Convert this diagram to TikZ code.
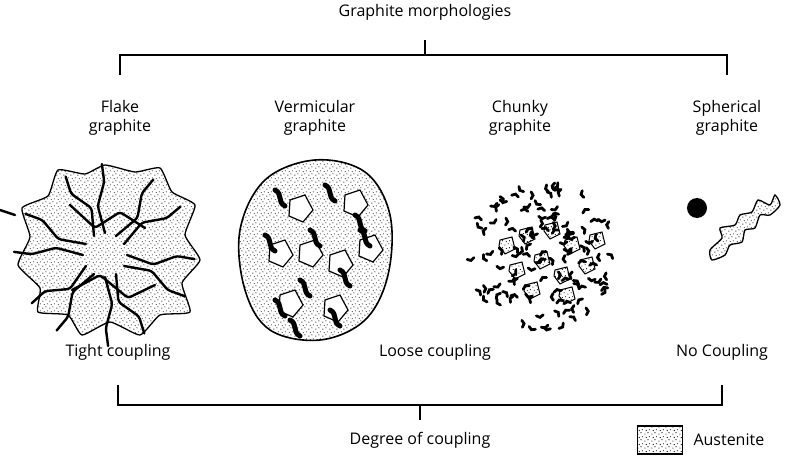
\documentclass[tikz,border=0pt]{standalone}
\usepackage{fontspec}
\setmainfont{Open Sans}
\usetikzlibrary{patterns}
\pgfdeclarepatternformonly{stip}{\pgfpointorigin}{\pgfpoint{7pt}{7pt}}{\pgfpoint{7pt}{7pt}}{
 \pgfpathcircle{\pgfpoint{1pt}{1pt}}{0.6pt}
 \pgfpathcircle{\pgfpoint{4.5pt}{2.5pt}}{0.6pt}
 \pgfpathcircle{\pgfpoint{2.5pt}{5pt}}{0.6pt}
 \pgfpathcircle{\pgfpoint{6pt}{5.8pt}}{0.6pt}
 \pgfusepath{fill}}
\tikzset{lbl/.style={font=\fontsize{16}{19}\selectfont,align=center},
 brk/.style={line width=1.4pt},
 aus/.style={pattern=stip,pattern color=black},
 gr/.style={line width=2.4pt,line cap=round,rounded corners=3pt},
 blob/.style={fill=black,draw=black,line width=1pt}}
\begin{document}
\begin{tikzpicture}[x=1pt,y=-1pt]
\useasboundingbox (0,0) rectangle (785,463);
\node[lbl] (title) at (425,12) {Graphite morphologies};
\coordinate (tc) at (425,40);
\coordinate (tm) at (425,55);
\coordinate (tl) at (120,55);
\coordinate (tr) at (727,55);
\draw[brk] (tc)--(tm);
\draw[brk] (120,75)--(tl)--(tr)--(727,75);
\node[lbl] (fl) at (120,118) {Flake\\graphite};
\node[lbl] (ve) at (315,118) {Vermicular\\graphite};
\node[lbl] (ch) at (520,118) {Chunky\\graphite};
\node[lbl] (sp) at (727,118) {Spherical\\graphite};
% flake
\fill[aus,draw=black,line width=1.3pt]
 plot[smooth cycle,tension=0.3] coordinates {(105,165)(135,172)(160,168)(172,192)(195,205)(185,235)(200,260)(182,283)(190,312)(160,315)(140,335)(110,322)(82,335)(68,315)(38,312)(40,288)(18,265)(30,237)(22,208)(48,196)(58,170)(85,174)};
\foreach \a/\b in {0/20,30/-20,60/25,90/-15,120/20,150/-25,180/15,210/-20,240/25,270/-15,300/20,330/-20}{
 \draw[gr] (105,255) ++(\a:22) -- ++(\a+\b:28) -- ++(\a-\b:25) -- ++(\a+\b/2:18);}
\draw[gr] (15,215)--(0,210);
\draw[gr] (70,205)--(95,228)--(120,212)--(145,228);
\draw[gr] (72,290)--(100,275)--(128,298)--(155,285);
% vermicular
\fill[aus,draw=black,line width=1.6pt]
 plot[smooth cycle,tension=0.6] coordinates {(315,160)(365,172)(390,215)(388,275)(365,320)(320,340)(270,330)(245,290)(240,230)(265,180)};
\foreach \x/\y in {290/200,345/195,300/245,330/255,280/295,325/300,360/240,270/245}{
 \fill[white,draw=black,line width=1.2pt] (\x,\y) -- ++(15,-5) -- ++(8,15) -- ++(-10,12) -- ++(-14,-6) -- cycle;}
\foreach \x/\y in {275/190,325/185,355/215,265/235,310/230,340/270,300/280,275/300,330/310,360/230,290/320}{
 \draw[blob,line width=5pt,line cap=round] (\x,\y) .. controls (\x+8,\y+4) and (\x+2,\y+12) .. (\x+10,\y+16);}
% chunky
\pgfmathsetseed{7}
\foreach \x/\y in {520/230,545/225,565/240,535/255,510/265,555/270,580/260,525/285,560/290,590/235,500/240}{
 \fill[aus,draw=black,line width=1pt] (\x,\y) -- ++(12,-3) -- ++(3,12) -- ++(-10,5) -- ++(-6,-8) -- cycle;}
\foreach \i in {1,...,120}{
 \pgfmathsetmacro\r{75*sqrt(rnd)}
 \pgfmathsetmacro\t{360*rnd}
 \pgfmathsetmacro\d{360*rnd}
 \draw[line width=2.8pt,line cap=round] (540,255) ++(\t:\r) -- ++(\d:4) -- ++(\d+60:4);}
% spherical
\fill (697,208) circle (10);
\fill[aus,draw=black,line width=1.3pt]
 plot[smooth cycle,tension=0.4] coordinates {(710,250)(722,238)(720,228)(735,225)(740,215)(752,212)(758,200)(770,205)(775,195)(780,205)(770,215)(760,215)(755,228)(745,230)(742,242)(730,245)(725,255)(712,260)};
% coupling
\node[lbl] (tight) at (118,352) {Tight coupling};
\node[lbl] (loose) at (435,352) {Loose coupling};
\node[lbl] (no) at (722,352) {No Coupling};
\coordinate (bl) at (118,405);
\coordinate (br) at (722,405);
\coordinate (bm) at (420,405);
\draw[brk] (118,385)--(bl)--(br)--(722,385);
\draw[brk] (bm)--(420,420);
\node[lbl] (deg) at (420,440) {Degree of coupling};
\node[aus,draw=black,line width=1.2pt,minimum width=45pt,minimum height=28pt] (leg) at (660,440) {};
\node[lbl,anchor=west] (aul) at (690,440) {Austenite};
\end{tikzpicture}
\end{document}
